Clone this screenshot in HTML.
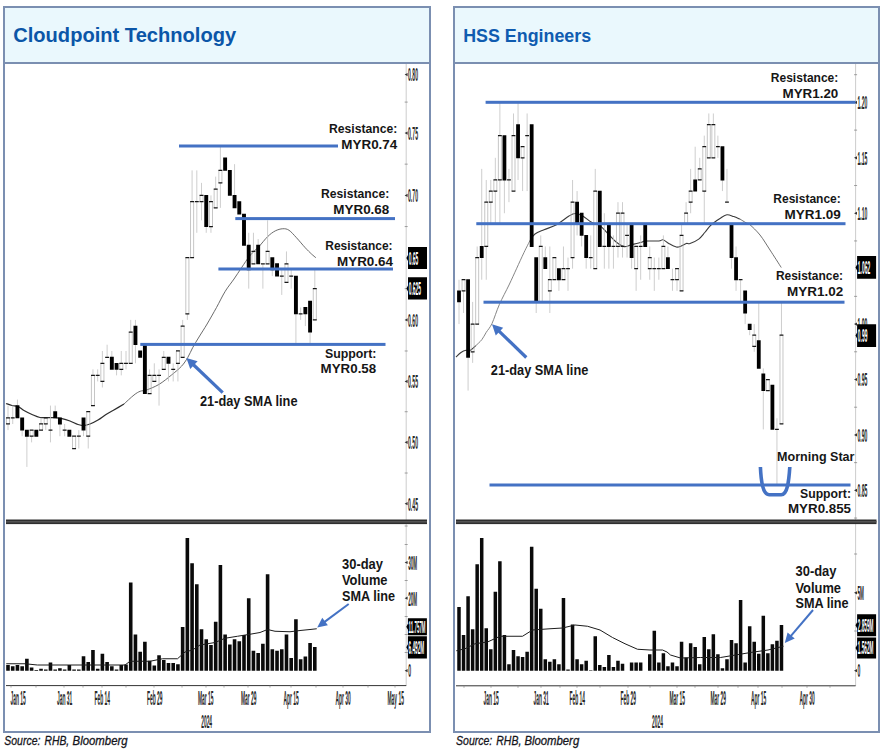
<!DOCTYPE html>
<html lang="en"><head><meta charset="utf-8"><title>Charts</title>
<style>html,body{margin:0;padding:0;background:#fff}body{width:884px;height:752px;overflow:hidden}svg{display:block}text{font-family:"Liberation Sans",sans-serif}</style></head><body>
<svg width="884" height="752" viewBox="0 0 884 752">
<rect width="884" height="752" fill="#fff"/>
<g id="left">
<rect x="4" y="7" width="426" height="56" fill="#eaf8fd"/>
<rect x="4" y="62" width="426" height="2" fill="#7b8fb1"/>
<rect x="4" y="7" width="426" height="725" fill="none" stroke="#7b8fb1" stroke-width="2"/>
<text x="13.2" y="41.8" font-size="20" font-weight="bold" textLength="223" lengthAdjust="spacingAndGlyphs" fill="#0b56a8">Cloudpoint Technology</text>
<path d="M406.2 64V686" stroke="#c6c6c6" stroke-width="0.9" fill="none"/>
<path d="M404.6 74.6L407.6 73L407.6 76.2zM404.6 133.1L407.6 131.5L407.6 134.7zM404.6 195.4L407.6 193.8L407.6 197zM404.6 319.9L407.6 318.3L407.6 321.5zM404.6 381.42L407.6 379.82L407.6 383.02zM404.6 442.37L407.6 440.77L407.6 443.97zM404.6 503.7L407.6 502.1L407.6 505.3z" fill="#333"/>
<path d="M404.7 102.1h3M404.7 164.15h3M404.7 226.56h3M404.7 288.65h3M404.7 350.99h3M404.7 411.73h3M404.7 473.03h3" stroke="#888" stroke-width="0.8" fill="none"/>
<text transform="translate(408 81.4) scale(0.27 1)" font-size="19" font-weight="bold" fill="#2a2a2a">0.80</text>
<text transform="translate(408 139.9) scale(0.27 1)" font-size="19" font-weight="bold" fill="#2a2a2a">0.75</text>
<text transform="translate(408 202.2) scale(0.27 1)" font-size="19" font-weight="bold" fill="#2a2a2a">0.70</text>
<text transform="translate(408 326.7) scale(0.27 1)" font-size="19" font-weight="bold" fill="#2a2a2a">0.60</text>
<text transform="translate(408 388.22) scale(0.27 1)" font-size="19" font-weight="bold" fill="#2a2a2a">0.55</text>
<text transform="translate(408 449.17) scale(0.27 1)" font-size="19" font-weight="bold" fill="#2a2a2a">0.50</text>
<text transform="translate(408 510.5) scale(0.27 1)" font-size="19" font-weight="bold" fill="#2a2a2a">0.45</text>
<path d="M408 247h19v22h-19V261L406.4 258L408 255z" fill="#000"/>
<text transform="translate(408.7 264.84) scale(0.26 1)" font-size="19" font-weight="bold" fill="#fff">0.65</text>
<path d="M408 277.3h19v22.3h-19V291.45L406.4 288.45L408 285.45z" fill="#000"/>
<text transform="translate(408.7 295.29) scale(0.26 1)" font-size="19" font-weight="bold" fill="#fff">0.625</text>
<path d="M6 403.5C7 403.83 10 405 12 405.5C14 406 16 405.67 18 406.5C20 407.33 21.67 409.17 24 410.5C26.33 411.83 29.33 413.33 32 414.5C34.67 415.67 37.33 416.98 40 417.5C42.67 418.02 45.5 417.57 48 417.6C50.5 417.63 52.67 417.53 55 417.7C57.33 417.87 59.5 418.05 62 418.6C64.5 419.15 67.33 420.02 70 421C72.67 421.98 75.67 423.75 78 424.5C80.33 425.25 82 425.58 84 425.5C86 425.42 87.67 424.92 90 424C92.33 423.08 95.33 421.58 98 420C100.67 418.42 103.5 416.08 106 414.5C108.5 412.92 110 412.25 113 410.5C116 408.75 122.17 405.08 124 404" stroke="#2e2e2e" stroke-width="1.25" fill="none"/>
<path d="M124 404C125.67 402.5 131.29 397.12 134 395C136.71 392.88 138.17 392.08 140.25 391.25C142.33 390.42 143.38 391.14 146.5 390C149.62 388.86 154.83 386.9 159 384.4C163.17 381.9 167.75 378.02 171.5 375C175.25 371.98 178.79 369.17 181.5 366.25C184.21 363.33 185.88 360.62 187.75 357.5C189.62 354.38 190.88 350.92 192.75 347.5C194.62 344.08 196.61 340.92 199 337C201.39 333.08 204.18 328.92 207.1 324C210.02 319.08 213.47 312.96 216.5 307.5C219.53 302.04 222.33 296 225.25 291.25C228.17 286.5 231.29 282.92 234 279C236.71 275.08 238.79 271.71 241.5 267.75C244.21 263.79 247.33 258.79 250.25 255.25C253.17 251.71 256.08 249.62 259 246.5C261.92 243.38 265.04 239.1 267.75 236.5C270.46 233.9 272.75 232.19 275.25 230.9C277.75 229.61 280.46 228.86 282.75 228.75C285.04 228.64 286.71 228.75 289 230.25C291.29 231.75 293.79 234.83 296.5 237.75C299.21 240.67 302.75 245.04 305.25 247.75C307.75 250.46 309.73 252.33 311.5 254C313.27 255.67 315.17 257.12 315.9 257.75" stroke="#5a5a5a" stroke-width="0.9" fill="none"/>
<path d="M8 405.6V417.86M8 423.99V430.11M12.72 405.6V417.86M12.72 417.86V423.99M17.44 399.55V405.6M22.16 430.11V436.24M26.88 436.24V466.9M31.6 436.24V442.37M41.04 417.86V423.99M45.76 423.99V430.11M50.48 405.6V430.11M50.48 430.11V442.37M55.2 405.6V411.73M59.92 423.99V436.24M64.64 423.99V430.11M64.64 430.11V436.24M78.8 430.11V436.24M78.8 436.24V448.5M83.52 430.11V436.24M88.24 436.24V448.5M92.96 369.33V375.37M97.68 369.33V375.37M97.68 375.37V381.42M102.4 350.99V363.29M102.4 381.42V387.46M107.12 344.73V357.25M111.84 350.99V357.25M116.56 369.33V375.37M121.28 350.99V363.29M121.28 369.33V375.37M126 350.99V363.29M126 363.29V369.33M130.72 319.9V332.2M135.44 319.9V326.05M135.44 344.73V363.29M149.6 369.33V375.37M154.32 363.29V375.37M159.04 369.33V375.37M159.04 375.37V405.6M163.76 350.99V357.25M168.48 363.29V381.42M173.2 363.29V369.33M173.2 369.33V381.42M177.92 363.29V381.42M182.64 319.9V326.05M187.36 313.75V319.9M192.08 170.4V201.63M196.8 170.4V201.63M196.8 201.63V232.79M201.52 182.9V195.4M201.52 201.63V220.32M206.24 226.56V232.79M210.96 195.4V201.63M210.96 226.56V232.79M215.68 176.65V189.15M220.4 145.5V170.4M220.4 182.9V207.86M234.56 164.15V195.4M248.72 232.79V245.25M248.72 269.93V288.65M253.44 232.79V251.42M258.16 239.02V245.25M262.88 263.76V288.65M267.6 220.32V251.42M272.32 269.93V276.1M281.76 269.93V276.1M281.76 276.1V294.93M286.48 251.42V263.76M291.2 269.93V276.1M291.2 276.1V288.65M295.92 313.75V344.73M300.64 307.48V313.75M300.64 313.75V319.9M305.36 313.75V326.05M310.08 332.2V344.73M314.8 269.93V288.65" stroke="#c2c2c2" stroke-width="0.8" fill="none"/>
<path d="M6.45 417.86V423.99M9.55 417.86V423.99M30.05 430.11V436.24M33.15 430.11V436.24M39.49 423.99V430.11M42.59 423.99V430.11M44.21 417.86V423.99M47.31 417.86V423.99M72.53 436.24V448.5M75.63 436.24V448.5M86.69 411.73V436.24M89.79 411.73V436.24M91.41 375.37V405.6M94.51 375.37V405.6M100.85 363.29V381.42M103.95 363.29V381.42M119.73 363.29V369.33M122.83 363.29V369.33M129.17 332.2V363.29M132.27 332.2V363.29M148.05 375.37V393.5M151.15 375.37V393.5M152.77 375.37V381.42M155.87 375.37V381.42M162.21 357.25V369.33M165.31 357.25V369.33M176.37 350.99V363.29M179.47 350.99V363.29M181.09 326.05V357.25M184.19 326.05V357.25M185.81 257.59V313.75M188.91 257.59V313.75M190.53 201.63V257.59M193.63 201.63V257.59M199.97 195.4V201.63M203.07 195.4V201.63M209.41 201.63V226.56M212.51 201.63V226.56M214.13 189.15V207.86M217.23 189.15V207.86M218.85 170.4V182.9M221.95 170.4V182.9M251.89 251.42V263.76M254.99 251.42V263.76M266.05 251.42V263.76M269.15 251.42V263.76M284.93 263.76V282.38M288.03 263.76V282.38M313.25 288.65V319.9M316.35 288.65V319.9" stroke="#adadad" stroke-width="0.7" fill="none"/>
<path d="M6.05 417.86h3.9M6.05 423.99h3.9M10.77 417.86h3.9M29.65 430.11h3.9M29.65 436.24h3.9M39.09 423.99h3.9M39.09 430.11h3.9M43.81 417.86h3.9M43.81 423.99h3.9M48.53 430.11h3.9M62.69 430.11h3.9M72.13 436.24h3.9M72.13 448.5h3.9M76.85 436.24h3.9M86.29 411.73h3.9M86.29 436.24h3.9M91.01 375.37h3.9M91.01 405.6h3.9M95.73 375.37h3.9M100.45 363.29h3.9M100.45 381.42h3.9M105.17 357.25h3.9M119.33 363.29h3.9M119.33 369.33h3.9M124.05 363.29h3.9M128.77 332.2h3.9M128.77 363.29h3.9M147.65 375.37h3.9M147.65 393.5h3.9M152.37 375.37h3.9M152.37 381.42h3.9M157.09 375.37h3.9M161.81 357.25h3.9M161.81 369.33h3.9M171.25 369.33h3.9M175.97 350.99h3.9M175.97 363.29h3.9M180.69 326.05h3.9M180.69 357.25h3.9M185.41 257.59h3.9M185.41 313.75h3.9M190.13 201.63h3.9M190.13 257.59h3.9M194.85 201.63h3.9M199.57 195.4h3.9M199.57 201.63h3.9M209.01 201.63h3.9M209.01 226.56h3.9M213.73 189.15h3.9M213.73 207.86h3.9M218.45 170.4h3.9M218.45 182.9h3.9M251.49 251.42h3.9M251.49 263.76h3.9M260.93 263.76h3.9M265.65 251.42h3.9M265.65 263.76h3.9M279.81 276.1h3.9M284.53 263.76h3.9M284.53 282.38h3.9M289.25 276.1h3.9M298.69 313.75h3.9M312.85 288.65h3.9M312.85 319.9h3.9" stroke="#161616" stroke-width="1.25" fill="none"/>
<path d="M15.49 405.2h3.9V418.26h-3.9zM20.21 417.46h3.9V430.51h-3.9zM24.93 429.71h3.9V436.64h-3.9zM34.37 429.71h3.9V436.64h-3.9zM53.25 411.33h3.9V418.26h-3.9zM57.97 417.46h3.9V424.39h-3.9zM67.41 429.71h3.9V436.64h-3.9zM81.57 417.46h3.9V430.51h-3.9zM109.89 356.85h3.9V369.73h-3.9zM114.61 362.89h3.9V369.73h-3.9zM133.49 325.65h3.9V345.12h-3.9zM138.21 350.59h3.9V357.65h-3.9zM142.93 344.33h3.9V393.9h-3.9zM166.53 356.85h3.9V363.69h-3.9zM204.29 195h3.9V226.96h-3.9zM223.17 157.5h3.9V170.8h-3.9zM227.89 170h3.9V195.8h-3.9zM232.61 195h3.9V208.26h-3.9zM237.33 201.23h3.9V214.49h-3.9zM242.05 213.69h3.9V245.65h-3.9zM246.77 244.85h3.9V270.33h-3.9zM256.21 244.85h3.9V264.16h-3.9zM270.37 257.19h3.9V270.33h-3.9zM275.09 263.36h3.9V276.5h-3.9zM293.97 275.7h3.9V314.15h-3.9zM303.41 307.08h3.9V314.15h-3.9zM308.13 300.8h3.9V332.6h-3.9z" fill="#000"/>
<rect x="179" y="144.5" width="159" height="3" fill="#4472c4"/>
<rect x="235.3" y="217.1" width="159.7" height="3" fill="#4472c4"/>
<rect x="218.4" y="267.5" width="174.6" height="3" fill="#4472c4"/>
<rect x="140.3" y="342.9" width="245.2" height="3" fill="#4472c4"/>
<text x="397.3" y="133.2" font-size="13" font-weight="bold" text-anchor="end" textLength="68.3" lengthAdjust="spacingAndGlyphs" fill="#161616">Resistance:</text>
<text x="397.3" y="149" font-size="13" font-weight="bold" text-anchor="end" textLength="56" lengthAdjust="spacingAndGlyphs" fill="#161616">MYR0.74</text>
<text x="389.3" y="198.3" font-size="13" font-weight="bold" text-anchor="end" textLength="68.3" lengthAdjust="spacingAndGlyphs" fill="#161616">Resistance:</text>
<text x="389.3" y="214" font-size="13" font-weight="bold" text-anchor="end" textLength="56" lengthAdjust="spacingAndGlyphs" fill="#161616">MYR0.68</text>
<text x="392.6" y="249.6" font-size="13" font-weight="bold" text-anchor="end" textLength="67.3" lengthAdjust="spacingAndGlyphs" fill="#161616">Resistance:</text>
<text x="393" y="266.3" font-size="13" font-weight="bold" text-anchor="end" textLength="56" lengthAdjust="spacingAndGlyphs" fill="#161616">MYR0.64</text>
<text x="376.4" y="357.7" font-size="13" font-weight="bold" text-anchor="end" textLength="51.5" lengthAdjust="spacingAndGlyphs" fill="#161616">Support:</text>
<text x="376.2" y="373.4" font-size="13" font-weight="bold" text-anchor="end" textLength="55.6" lengthAdjust="spacingAndGlyphs" fill="#161616">MYR0.58</text>
<text x="200" y="405.8" font-size="14.4" font-weight="bold" textLength="97.5" lengthAdjust="spacingAndGlyphs" fill="#161616">21-day SMA line</text>
<path d="M222.7 392.7L193.19 364.5" stroke="#4472c4" stroke-width="3.2" fill="none"/>
<path d="M186.4 358L197.61 361.32L190.22 369.05z" fill="#4472c4"/>
<rect x="6" y="519.5" width="421" height="4.6" fill="#2e2e2e"/>
<rect x="6" y="521.1" width="421" height="1.4" fill="#585858"/>
<path d="M6.2 665h3.6V670.75h-3.6zM10.92 666.25h3.6V670.75h-3.6zM15.64 665h3.6V670.75h-3.6zM20.36 666.25h3.6V670.75h-3.6zM25.08 658.75h3.6V670.75h-3.6zM29.8 667.5h3.6V670.75h-3.6zM34.52 670h3.6V670.75h-3.6zM39.24 668.75h3.6V670.75h-3.6zM43.96 669.5h3.6V670.75h-3.6zM48.68 662.5h3.6V670.75h-3.6zM53.4 669.5h3.6V670.75h-3.6zM58.12 668.25h3.6V670.75h-3.6zM62.84 669.5h3.6V670.75h-3.6zM67.56 665h3.6V670.75h-3.6zM72.28 669.5h3.6V670.75h-3.6zM77 669.5h3.6V670.75h-3.6zM81.72 656.25h3.6V670.75h-3.6zM86.44 662h3.6V670.75h-3.6zM91.16 650h3.6V670.75h-3.6zM95.88 668.75h3.6V670.75h-3.6zM100.6 653.75h3.6V670.75h-3.6zM105.32 662h3.6V670.75h-3.6zM110.04 666.25h3.6V670.75h-3.6zM114.76 669.5h3.6V670.75h-3.6zM119.48 665h3.6V670.75h-3.6zM124.2 664.5h3.6V670.75h-3.6zM128.92 582.5h3.6V670.75h-3.6zM133.64 634.5h3.6V670.75h-3.6zM138.36 651.75h3.6V670.75h-3.6zM143.08 641.75h3.6V670.75h-3.6zM147.8 660.75h3.6V670.75h-3.6zM152.52 665.5h3.6V670.75h-3.6zM157.24 655.25h3.6V670.75h-3.6zM161.96 660h3.6V670.75h-3.6zM166.68 663h3.6V670.75h-3.6zM171.4 663h3.6V670.75h-3.6zM176.12 664.25h3.6V670.75h-3.6zM180.84 627h3.6V670.75h-3.6zM185.56 538h3.6V670.75h-3.6zM190.28 563.25h3.6V670.75h-3.6zM195 584.25h3.6V670.75h-3.6zM199.72 629.25h3.6V670.75h-3.6zM204.44 639.25h3.6V670.75h-3.6zM209.16 645h3.6V670.75h-3.6zM213.88 621.75h3.6V670.75h-3.6zM218.6 565h3.6V670.75h-3.6zM223.32 634.5h3.6V670.75h-3.6zM228.04 644.5h3.6V670.75h-3.6zM232.76 639.25h3.6V670.75h-3.6zM237.48 641.25h3.6V670.75h-3.6zM242.2 635h3.6V670.75h-3.6zM246.92 598.25h3.6V670.75h-3.6zM251.64 650.75h3.6V670.75h-3.6zM256.36 653h3.6V670.75h-3.6zM261.08 643.75h3.6V670.75h-3.6zM265.8 574.25h3.6V670.75h-3.6zM270.52 649.25h3.6V670.75h-3.6zM275.24 650.75h3.6V670.75h-3.6zM279.96 649.25h3.6V670.75h-3.6zM284.68 634.5h3.6V670.75h-3.6zM289.4 658h3.6V670.75h-3.6zM294.12 619.25h3.6V670.75h-3.6zM298.84 659.25h3.6V670.75h-3.6zM303.56 656.5h3.6V670.75h-3.6zM308.28 643h3.6V670.75h-3.6zM313 647h3.6V670.75h-3.6z" fill="#0a0a0a"/>
<path d="M6.25 663.75L25 663.75L37.5 665L125 665L130 661.25L150 661.25L162.5 658.75L177.5 658.75L185 652L192.5 650L200 645L215 642.5L225 638.25L237.5 636.25L250 634.25L260 632.5L267.5 629.5L275 631.25L290 631.75L300 630.5L310 629.5L316.75 628.75" stroke="#1c1c1c" stroke-width="1" fill="none" stroke-linejoin="round"/>
<text x="342" y="568.8" font-size="14.4" font-weight="bold" textLength="41" lengthAdjust="spacingAndGlyphs" fill="#161616">30-day</text>
<text x="342" y="585" font-size="14.4" font-weight="bold" textLength="45.5" lengthAdjust="spacingAndGlyphs" fill="#161616">Volume</text>
<text x="342" y="600.8" font-size="14.4" font-weight="bold" textLength="53" lengthAdjust="spacingAndGlyphs" fill="#161616">SMA line</text>
<path d="M348.7 604L324.26 622.15" stroke="#4472c4" stroke-width="2" fill="none"/>
<path d="M317.2 627.4L322.26 617.78L327.87 625.33z" fill="#4472c4"/>
<text transform="translate(408.2 569.8) scale(0.23 1)" font-size="20" font-weight="bold" fill="#1e1e1e">30M</text>
<text transform="translate(408.2 605.6) scale(0.23 1)" font-size="20" font-weight="bold" fill="#1e1e1e">20M</text>
<text transform="translate(408.2 677.3) scale(0.27 1)" font-size="19" font-weight="bold" fill="#1e1e1e">0</text>
<path d="M404.6 562.5L407.6 560.9L407.6 564.1zM404.6 598.2L407.6 596.6L407.6 599.8zM404.6 670.7L407.6 669.1L407.6 672.3z" fill="#333"/>
<path d="M404.7 526h3M404.7 544.5h3M404.7 580.5h3M404.7 616.5h3M404.7 634.5h3M404.7 652.5h3" stroke="#888" stroke-width="0.8" fill="none"/>
<path d="M407.9 618.2h19v17h-19V629.7L406.3 626.7L407.9 623.7z" fill="#000"/>
<text transform="translate(408.6 632.82) scale(0.26 1)" font-size="17" font-weight="bold" fill="#fff">11.757M</text>
<path d="M407.9 636.2h19v22.2h-19V650.3L406.3 647.3L407.9 644.3z" fill="#000"/>
<text transform="translate(408.6 653.78) scale(0.26 1)" font-size="18" font-weight="bold" fill="#fff">6.492M</text>
<path d="M6 685.6H406.2" stroke="#333" stroke-width="1" fill="none"/>
<path d="M11 685.6v2M36 685.6v2M64 685.6v2M83 685.6v2M102 685.6v2M126 685.6v2M154 685.6v2M182 685.6v2M206 685.6v2M224 685.6v2M248 685.6v2M270 685.6v2M291 685.6v2M316 685.6v2M343 685.6v2M368 685.6v2M395 685.6v2" stroke="#888" stroke-width="0.7" fill="none"/>
<text transform="translate(10.5 705.4) scale(0.24 1)" font-size="20.5" font-weight="bold" fill="#2a2a2a">Jan 15</text>
<text transform="translate(57 705.4) scale(0.24 1)" font-size="20.5" font-weight="bold" fill="#2a2a2a">Jan 31</text>
<text transform="translate(94.5 705.4) scale(0.24 1)" font-size="20.5" font-weight="bold" fill="#2a2a2a">Feb 14</text>
<text transform="translate(147 705.4) scale(0.24 1)" font-size="20.5" font-weight="bold" fill="#2a2a2a">Feb 29</text>
<text transform="translate(198 705.4) scale(0.24 1)" font-size="20.5" font-weight="bold" fill="#2a2a2a">Mar 15</text>
<text transform="translate(241 705.4) scale(0.24 1)" font-size="20.5" font-weight="bold" fill="#2a2a2a">Mar 29</text>
<text transform="translate(283.5 705.4) scale(0.24 1)" font-size="20.5" font-weight="bold" fill="#2a2a2a">Apr 15</text>
<text transform="translate(335.5 705.4) scale(0.24 1)" font-size="20.5" font-weight="bold" fill="#2a2a2a">Apr 30</text>
<text transform="translate(387.5 705.4) scale(0.24 1)" font-size="20.5" font-weight="bold" fill="#2a2a2a">May 15</text>
<text transform="translate(201.2 728) scale(0.28 1)" font-size="17.5" font-weight="bold" fill="#2a2a2a">2024</text>
<text x="4.3" y="744.6" font-size="12.5" font-weight="normal" textLength="36.1" lengthAdjust="spacingAndGlyphs" font-style="italic" fill="#15151c" stroke="#15151c" stroke-width="0.3">Source:</text>
<text x="44.4" y="744.6" font-size="12.5" font-weight="normal" textLength="24.8" lengthAdjust="spacingAndGlyphs" font-style="italic" fill="#15151c" stroke="#15151c" stroke-width="0.3">RHB,</text>
<text x="72.6" y="744.6" font-size="12.5" font-weight="normal" textLength="55" lengthAdjust="spacingAndGlyphs" font-style="italic" fill="#15151c" stroke="#15151c" stroke-width="0.3">Bloomberg</text>
</g>
<g id="right">
<rect x="454" y="7" width="425" height="56" fill="#eaf8fd"/>
<rect x="454" y="62" width="425" height="2" fill="#7b8fb1"/>
<rect x="454" y="7" width="425" height="725" fill="none" stroke="#7b8fb1" stroke-width="2"/>
<text x="463.2" y="41.8" font-size="19" font-weight="bold" textLength="128" lengthAdjust="spacingAndGlyphs" fill="#0f5cb0">HSS Engineers</text>
<path d="M855.6 64V686" stroke="#c6c6c6" stroke-width="0.9" fill="none"/>
<path d="M854 102.4L857 100.8L857 104zM854 157.82L857 156.22L857 159.42zM854 213.24L857 211.64L857 214.84zM854 324.08L857 322.48L857 325.68zM854 379.5L857 377.9L857 381.1zM854 434.92L857 433.32L857 436.52zM854 490.34L857 488.74L857 491.94z" fill="#333"/>
<path d="M854.1 74.69h3M854.1 130.11h3M854.1 185.53h3M854.1 240.95h3M854.1 296.37h3M854.1 351.79h3M854.1 407.21h3M854.1 462.63h3M854.1 518.05h3" stroke="#888" stroke-width="0.8" fill="none"/>
<text transform="translate(857.4 109.2) scale(0.27 1)" font-size="19" font-weight="bold" fill="#2a2a2a">1.20</text>
<text transform="translate(857.4 164.62) scale(0.27 1)" font-size="19" font-weight="bold" fill="#2a2a2a">1.15</text>
<text transform="translate(857.4 220.04) scale(0.27 1)" font-size="19" font-weight="bold" fill="#2a2a2a">1.10</text>
<text transform="translate(857.4 330.88) scale(0.27 1)" font-size="19" font-weight="bold" fill="#2a2a2a">1.00</text>
<text transform="translate(857.4 386.3) scale(0.27 1)" font-size="19" font-weight="bold" fill="#2a2a2a">0.95</text>
<text transform="translate(857.4 441.72) scale(0.27 1)" font-size="19" font-weight="bold" fill="#2a2a2a">0.90</text>
<text transform="translate(857.4 497.14) scale(0.27 1)" font-size="19" font-weight="bold" fill="#2a2a2a">0.85</text>
<path d="M857.1 256h19v22.8h-19V270.4L855.5 267.4L857.1 264.4z" fill="#000"/>
<text transform="translate(857.8 274.24) scale(0.26 1)" font-size="19" font-weight="bold" fill="#fff">1.062</text>
<path d="M857.1 324.2h19v22.8h-19V338.6L855.5 335.6L857.1 332.6z" fill="#000"/>
<text transform="translate(857.8 342.44) scale(0.26 1)" font-size="19" font-weight="bold" fill="#fff">0.99</text>
<path d="M456 357C456.83 356.25 459.33 353.62 461 352.5C462.67 351.38 464.5 350.62 466 350.3C467.5 349.98 468.35 351.38 470 350.6C471.65 349.82 474.92 346.43 475.9 345.6" stroke="#3a3a3a" stroke-width="1.1" fill="none"/>
<path d="M475.9 345.6C476.88 344.62 480.08 341.9 481.8 339.7C483.52 337.5 484.5 335.1 486.2 332.4C487.9 329.7 489.8 328.17 492 323.5C494.2 318.83 496.57 310.82 499.4 304.4C502.23 297.98 506.15 290.94 509 285C511.85 279.06 514 274.17 516.5 268.75C519 263.33 521.71 257.29 524 252.5C526.29 247.71 529.21 242.08 530.25 240" stroke="#777" stroke-width="0.9" fill="none"/>
<path d="M530.25 240C531.04 239 532.71 235.71 535 234C537.29 232.29 540.42 231.29 544 229.75C547.58 228.21 552.33 227.04 556.5 224.75C560.67 222.46 565.88 217.88 569 216C572.12 214.12 572.96 213.5 575.25 213.5C577.54 213.5 580.04 214.54 582.75 216C585.46 217.46 588.58 220.58 591.5 222.25C594.42 223.92 597.33 223.92 600.25 226C603.17 228.08 606.29 232.04 609 234.75C611.71 237.46 614 240.28 616.5 242.25C619 244.22 621.5 246.18 624 246.6C626.5 247.02 628.58 245.47 631.5 244.75C634.42 244.03 639.25 242.88 641.5 242.25C643.75 241.62 642.12 241.21 645 241C647.88 240.79 655.73 241.21 658.75 241C661.77 240.79 661.43 239.33 663.1 239.75C664.77 240.17 666.56 242.29 668.75 243.5C670.94 244.71 674.17 246.58 676.25 247C678.33 247.42 679.58 246.58 681.25 246C682.92 245.42 684.79 243.92 686.25 243.5C687.71 243.08 687.92 244.23 690 243.5C692.08 242.77 696.25 240.97 698.75 239.1C701.25 237.22 702.92 234.64 705 232.25C707.08 229.86 708.75 227.04 711.25 224.75C713.75 222.46 717.39 220.17 720 218.5C722.61 216.83 724.61 215.07 726.9 214.75C729.19 214.43 731.57 215.88 733.75 216.6C735.93 217.32 738.96 218.68 740 219.1" stroke="#3a3a3a" stroke-width="1.1" fill="none"/>
<path d="M740 219.1C741.04 219.73 744.58 221.96 746.25 222.9C747.92 223.84 747.71 222.73 750 224.75C752.29 226.77 756.67 230.79 760 235C763.33 239.21 766.46 244.58 770 250C773.54 255.42 779.38 264.58 781.25 267.5" stroke="#606060" stroke-width="0.9" fill="none"/>
<path d="M459 279.74V290.83M459 301.91V324.08M463.54 290.83V313M468.08 357.33V390.58M472.63 301.91V324.08M472.63 351.79V362.87M477.17 246.49V257.58M481.71 168.9V246.49M481.71 257.58V279.74M486.25 179.99V202.16M486.25 246.49V279.74M490.79 179.99V191.07M490.79 202.16V224.32M495.34 157.82V179.99M495.34 191.07V224.32M499.88 102.4V135.65M499.88 179.99V224.32M504.42 179.99V213.24M508.96 168.9V179.99M508.96 179.99V202.16M513.5 113.48V135.65M518.05 102.4V124.57M518.05 157.82V179.99M522.59 157.82V191.07M527.13 113.48V135.65M527.13 135.65V191.07M536.21 301.91V313M540.76 235.41V246.49M545.3 246.49V257.58M549.84 246.49V279.74M549.84 290.83V313M558.92 279.74V290.83M563.47 246.49V268.66M568.01 257.58V268.66M568.01 268.66V290.83M572.55 179.99V202.16M572.55 257.58V268.66M577.09 191.07V202.16M577.09 224.32V235.41M581.63 235.41V246.49M586.18 257.58V268.66M590.72 235.41V257.58M590.72 257.58V268.66M595.26 168.9V191.07M604.34 213.24V246.49M604.34 246.49V268.66M608.89 246.49V268.66M613.43 235.41V246.49M613.43 246.49V268.66M617.97 202.16V213.24M617.97 246.49V257.58M622.51 202.16V213.24M622.51 246.49V257.58M627.05 224.32V235.41M627.05 235.41V257.58M631.6 257.58V268.66M636.14 268.66V290.83M640.68 235.41V246.49M640.68 246.49V279.74M649.76 246.49V257.58M649.76 268.66V279.74M654.31 257.58V268.66M654.31 268.66V290.83M658.85 257.58V268.66M658.85 268.66V279.74M663.39 235.41V246.49M667.93 246.49V257.58M672.47 268.66V279.74M672.47 279.74V290.83M677.02 279.74V290.83M681.56 224.32V235.41M686.1 202.16V213.24M690.64 168.9V191.07M690.64 202.16V213.24M695.18 146.74V179.99M699.73 157.82V168.9M704.27 135.65V146.74M704.27 191.07V224.32M708.81 113.48V124.57M713.35 113.48V124.57M717.89 135.65V146.74M717.89 146.74V157.82M722.44 179.99V191.07M726.98 168.9V202.16M731.52 257.58V268.66M736.06 246.49V257.58M736.06 279.74V290.83M740.6 279.74V301.91M745.15 313V324.08M749.69 329.62V335.16M754.23 324.08V335.16M754.23 346.25V351.79M758.77 301.91V340.71M763.31 368.42V373.96M763.31 390.58V429.38M776.94 418.29V429.38M776.94 429.38V484.8M781.48 301.91V335.16" stroke="#c2c2c2" stroke-width="0.8" fill="none"/>
<path d="M462.04 279.74V290.83M465.04 279.74V290.83M471.13 324.08V351.79M474.13 324.08V351.79M475.67 257.58V324.08M478.67 257.58V324.08M484.75 202.16V246.49M487.75 202.16V246.49M489.29 191.07V202.16M492.29 191.07V202.16M493.84 179.99V191.07M496.84 179.99V191.07M498.38 135.65V179.99M501.38 135.65V179.99M512 135.65V191.07M515 135.65V191.07M521.09 146.74V157.82M524.09 146.74V157.82M539.26 246.49V301.91M542.26 246.49V301.91M548.34 279.74V290.83M551.34 279.74V290.83M552.88 257.58V279.74M555.88 257.58V279.74M561.97 268.66V279.74M564.97 268.66V279.74M571.05 202.16V257.58M574.05 202.16V257.58M593.76 191.07V268.66M596.76 191.07V268.66M616.47 213.24V246.49M619.47 213.24V246.49M621.01 213.24V246.49M624.01 213.24V246.49M634.64 246.49V268.66M637.64 246.49V268.66M648.26 257.58V268.66M651.26 257.58V268.66M661.89 246.49V268.66M664.89 246.49V268.66M675.52 268.66V279.74M678.52 268.66V279.74M680.06 235.41V290.83M683.06 235.41V290.83M684.6 213.24V224.32M687.6 213.24V224.32M689.14 191.07V202.16M692.14 191.07V202.16M698.23 168.9V179.99M701.23 168.9V179.99M702.77 146.74V191.07M705.77 146.74V191.07M707.31 124.57V157.82M710.31 124.57V157.82M711.85 124.57V157.82M714.85 124.57V157.82M752.73 335.16V346.25M755.73 335.16V346.25M766.36 379.5V390.58M769.36 379.5V390.58M779.98 335.16V423.84M782.98 335.16V423.84" stroke="#adadad" stroke-width="0.7" fill="none"/>
<path d="M461.64 279.74h3.8M461.64 290.83h3.8M470.73 324.08h3.8M470.73 351.79h3.8M475.27 257.58h3.8M475.27 324.08h3.8M484.35 202.16h3.8M484.35 246.49h3.8M488.89 191.07h3.8M488.89 202.16h3.8M493.44 179.99h3.8M493.44 191.07h3.8M497.98 135.65h3.8M497.98 179.99h3.8M507.06 179.99h3.8M511.6 135.65h3.8M511.6 191.07h3.8M520.69 146.74h3.8M520.69 157.82h3.8M525.23 135.65h3.8M538.86 246.49h3.8M538.86 301.91h3.8M547.94 279.74h3.8M547.94 290.83h3.8M552.48 257.58h3.8M552.48 279.74h3.8M561.57 268.66h3.8M561.57 279.74h3.8M566.11 268.66h3.8M570.65 202.16h3.8M570.65 257.58h3.8M588.82 257.58h3.8M593.36 191.07h3.8M593.36 268.66h3.8M602.44 246.49h3.8M611.53 246.49h3.8M616.07 213.24h3.8M616.07 246.49h3.8M620.61 213.24h3.8M620.61 246.49h3.8M625.15 235.41h3.8M634.24 246.49h3.8M634.24 268.66h3.8M638.78 246.49h3.8M647.86 257.58h3.8M647.86 268.66h3.8M652.41 268.66h3.8M656.95 268.66h3.8M661.49 246.49h3.8M661.49 268.66h3.8M670.57 279.74h3.8M675.12 268.66h3.8M675.12 279.74h3.8M679.66 235.41h3.8M679.66 290.83h3.8M684.2 213.24h3.8M684.2 224.32h3.8M688.74 191.07h3.8M688.74 202.16h3.8M697.83 168.9h3.8M697.83 179.99h3.8M702.37 146.74h3.8M702.37 191.07h3.8M706.91 124.57h3.8M706.91 157.82h3.8M711.45 124.57h3.8M711.45 157.82h3.8M715.99 146.74h3.8M725.08 202.16h3.8M738.7 279.74h3.8M752.33 335.16h3.8M752.33 346.25h3.8M765.96 379.5h3.8M765.96 390.58h3.8M775.04 429.38h3.8M779.58 335.16h3.8M779.58 423.84h3.8" stroke="#161616" stroke-width="1.25" fill="none"/>
<path d="M457.1 290.43h3.8V302.31h-3.8zM466.18 279.34h3.8V357.73h-3.8zM479.81 246.09h3.8V257.98h-3.8zM502.52 135.25h3.8V180.39h-3.8zM516.15 124.17h3.8V158.22h-3.8zM529.77 124.17h3.8V246.89h-3.8zM534.31 257.18h3.8V302.31h-3.8zM543.4 257.18h3.8V269.06h-3.8zM557.02 268.26h3.8V280.14h-3.8zM575.19 201.76h3.8V224.72h-3.8zM579.73 212.84h3.8V235.81h-3.8zM584.28 235.01h3.8V257.98h-3.8zM597.9 190.67h3.8V246.89h-3.8zM606.99 223.92h3.8V246.89h-3.8zM629.7 223.92h3.8V257.98h-3.8zM643.32 223.92h3.8V246.89h-3.8zM666.03 257.18h3.8V269.06h-3.8zM693.28 179.59h3.8V191.47h-3.8zM720.54 146.34h3.8V180.39h-3.8zM729.62 223.92h3.8V257.98h-3.8zM734.16 257.18h3.8V280.14h-3.8zM743.25 290.43h3.8V313.4h-3.8zM747.79 323.68h3.8V330.02h-3.8zM756.87 340.31h3.8V368.82h-3.8zM761.41 373.56h3.8V390.98h-3.8zM770.5 384.64h3.8V429.78h-3.8z" fill="#000"/>
<rect x="485.6" y="100.8" width="369.9" height="3" fill="#4472c4"/>
<rect x="476.3" y="222.2" width="369.2" height="3" fill="#4472c4"/>
<rect x="483.5" y="300.7" width="361" height="3" fill="#4472c4"/>
<rect x="489.5" y="483.5" width="361" height="3" fill="#4472c4"/>
<text x="838.3" y="82.2" font-size="13" font-weight="bold" text-anchor="end" textLength="67.5" lengthAdjust="spacingAndGlyphs" fill="#161616">Resistance:</text>
<text x="838.3" y="97.7" font-size="13" font-weight="bold" text-anchor="end" textLength="55.8" lengthAdjust="spacingAndGlyphs" fill="#161616">MYR1.20</text>
<text x="840.8" y="203.2" font-size="13" font-weight="bold" text-anchor="end" textLength="67.5" lengthAdjust="spacingAndGlyphs" fill="#161616">Resistance:</text>
<text x="840.8" y="218.8" font-size="13" font-weight="bold" text-anchor="end" textLength="56.2" lengthAdjust="spacingAndGlyphs" fill="#161616">MYR1.09</text>
<text x="843.1" y="279.6" font-size="13" font-weight="bold" text-anchor="end" textLength="67.2" lengthAdjust="spacingAndGlyphs" fill="#161616">Resistance:</text>
<text x="843.3" y="296.3" font-size="13" font-weight="bold" text-anchor="end" textLength="56.2" lengthAdjust="spacingAndGlyphs" fill="#161616">MYR1.02</text>
<text x="777.1" y="461.3" font-size="13" font-weight="bold" textLength="77.4" lengthAdjust="spacingAndGlyphs" fill="#161616">Morning Star</text>
<text x="851" y="497.6" font-size="13" font-weight="bold" text-anchor="end" textLength="51" lengthAdjust="spacingAndGlyphs" fill="#161616">Support:</text>
<text x="851" y="513.3" font-size="13" font-weight="bold" text-anchor="end" textLength="63" lengthAdjust="spacingAndGlyphs" fill="#161616">MYR0.855</text>
<text x="490.8" y="375" font-size="14.4" font-weight="bold" textLength="97.5" lengthAdjust="spacingAndGlyphs" fill="#161616">21-day SMA line</text>
<path d="M526.3 357.5L498.75 330.84" stroke="#4472c4" stroke-width="3.2" fill="none"/>
<path d="M492 324.3L503.19 327.69L495.75 335.38z" fill="#4472c4"/>
<path d="M760.4 467C761 480 762.6 494.7 769.2 494.7L781.2 494.7C787.6 494.7 789 480 789.8 467" stroke="#4472c4" stroke-width="3.6" fill="none" stroke-linejoin="round"/>
<rect x="456" y="519.5" width="420.5" height="4.6" fill="#2e2e2e"/>
<rect x="456" y="521.1" width="420.5" height="1.4" fill="#585858"/>
<path d="M457.25 607h3.5V670.75h-3.5zM461.79 635h3.5V670.75h-3.5zM466.33 596.25h3.5V670.75h-3.5zM470.88 629.25h3.5V670.75h-3.5zM475.42 564.25h3.5V670.75h-3.5zM479.96 538h3.5V670.75h-3.5zM484.5 628.25h3.5V670.75h-3.5zM489.04 649.25h3.5V670.75h-3.5zM493.59 591.75h3.5V670.75h-3.5zM498.13 561.25h3.5V670.75h-3.5zM502.67 635h3.5V670.75h-3.5zM507.21 664.25h3.5V670.75h-3.5zM511.75 650h3.5V670.75h-3.5zM516.3 656.25h3.5V670.75h-3.5zM520.84 657h3.5V670.75h-3.5zM525.38 651.75h3.5V670.75h-3.5zM529.92 546.75h3.5V670.75h-3.5zM534.46 588.75h3.5V670.75h-3.5zM539.01 608.75h3.5V670.75h-3.5zM543.55 659.25h3.5V670.75h-3.5zM548.09 661.75h3.5V670.75h-3.5zM552.63 659.25h3.5V670.75h-3.5zM557.17 664.25h3.5V670.75h-3.5zM561.72 598h3.5V670.75h-3.5zM566.26 669.5h3.5V670.75h-3.5zM570.8 624.5h3.5V670.75h-3.5zM575.34 659.25h3.5V670.75h-3.5zM579.88 664.25h3.5V670.75h-3.5zM584.43 660.75h3.5V670.75h-3.5zM588.97 670.25h3.5V670.75h-3.5zM593.51 636.25h3.5V670.75h-3.5zM598.05 665h3.5V670.75h-3.5zM602.59 667h3.5V670.75h-3.5zM607.14 655h3.5V670.75h-3.5zM611.68 667h3.5V670.75h-3.5zM616.22 660.75h3.5V670.75h-3.5zM620.76 663.75h3.5V670.75h-3.5zM629.85 662.5h3.5V670.75h-3.5zM634.39 662.5h3.5V670.75h-3.5zM638.93 662.5h3.5V670.75h-3.5zM648.01 654.25h3.5V670.75h-3.5zM652.56 630.75h3.5V670.75h-3.5zM657.1 662.5h3.5V670.75h-3.5zM661.64 653.25h3.5V670.75h-3.5zM666.18 666.25h3.5V670.75h-3.5zM670.72 662.5h3.5V670.75h-3.5zM675.27 666.25h3.5V670.75h-3.5zM679.81 641.75h3.5V670.75h-3.5zM684.35 657.5h3.5V670.75h-3.5zM688.89 643.25h3.5V670.75h-3.5zM693.43 647h3.5V670.75h-3.5zM697.98 664.25h3.5V670.75h-3.5zM702.52 637h3.5V670.75h-3.5zM707.06 649.25h3.5V670.75h-3.5zM711.6 634.25h3.5V670.75h-3.5zM716.14 654.25h3.5V670.75h-3.5zM720.69 668.25h3.5V670.75h-3.5zM725.23 659.25h3.5V670.75h-3.5zM729.77 640h3.5V670.75h-3.5zM734.31 643.25h3.5V670.75h-3.5zM738.85 600h3.5V670.75h-3.5zM743.4 662.5h3.5V670.75h-3.5zM747.94 626.25h3.5V670.75h-3.5zM752.48 641.75h3.5V670.75h-3.5zM757.02 653.75h3.5V670.75h-3.5zM761.56 615.75h3.5V670.75h-3.5zM766.11 653.25h3.5V670.75h-3.5zM770.65 644.25h3.5V670.75h-3.5zM775.19 640.75h3.5V670.75h-3.5zM779.73 625h3.5V670.75h-3.5z" fill="#0a0a0a"/>
<path d="M456.25 650.75L465 648.75L475 643.75L487.5 642L500 636.25L522.5 636.25L532.5 630L550 628.75L562.5 628L575 625L587.5 626.25L600 630L612.5 637.5L625 643.75L637.5 649.25L650 650L662.5 650L667 652L670.5 655L680.5 658L700.5 657.5L720.5 657.5L735.5 655L750.5 652.5L768 650L783.5 646.25" stroke="#1c1c1c" stroke-width="1" fill="none" stroke-linejoin="round"/>
<text x="795.5" y="576.3" font-size="14.4" font-weight="bold" textLength="41" lengthAdjust="spacingAndGlyphs" fill="#161616">30-day</text>
<text x="795.5" y="592.5" font-size="14.4" font-weight="bold" textLength="45.5" lengthAdjust="spacingAndGlyphs" fill="#161616">Volume</text>
<text x="795.5" y="608.3" font-size="14.4" font-weight="bold" textLength="53" lengthAdjust="spacingAndGlyphs" fill="#161616">SMA line</text>
<path d="M813 610L790.52 636.31" stroke="#4472c4" stroke-width="2" fill="none"/>
<path d="M784.8 643L787.59 632.5L794.74 638.6z" fill="#4472c4"/>
<text transform="translate(857.4 600.4) scale(0.23 1)" font-size="20" font-weight="bold" fill="#1e1e1e">5M</text>
<text transform="translate(857.4 677.3) scale(0.27 1)" font-size="19" font-weight="bold" fill="#1e1e1e">0</text>
<path d="M854 592.8L857 591.2L857 594.4zM854 670.7L857 669.1L857 672.3z" fill="#333"/>
<path d="M854.1 554h3M854.1 631h3" stroke="#888" stroke-width="0.8" fill="none"/>
<path d="M857.1 614.2h19v22h-19V628.2L855.5 625.2L857.1 622.2z" fill="#000"/>
<text transform="translate(857.8 631.68) scale(0.26 1)" font-size="18" font-weight="bold" fill="#fff">2.859M</text>
<path d="M857.1 637.5h19v21h-19V651L855.5 648L857.1 645z" fill="#000"/>
<text transform="translate(857.8 654.48) scale(0.26 1)" font-size="18" font-weight="bold" fill="#fff">1.562M</text>
<path d="M456 685.8H855.6" stroke="#333" stroke-width="1" fill="none"/>
<path d="M464 685.8v2M491 685.8v2M518 685.8v2M541 685.8v2M560 685.8v2M577 685.8v2M600 685.8v2M628 685.8v2M650 685.8v2M677 685.8v2M695 685.8v2M718 685.8v2M738 685.8v2M758 685.8v2M782 685.8v2M807 685.8v2M830 685.8v2" stroke="#888" stroke-width="0.7" fill="none"/>
<text transform="translate(483.5 705.4) scale(0.24 1)" font-size="20.5" font-weight="bold" fill="#2a2a2a">Jan 15</text>
<text transform="translate(533.5 705.4) scale(0.24 1)" font-size="20.5" font-weight="bold" fill="#2a2a2a">Jan 31</text>
<text transform="translate(569.5 705.4) scale(0.24 1)" font-size="20.5" font-weight="bold" fill="#2a2a2a">Feb 14</text>
<text transform="translate(620.5 705.4) scale(0.24 1)" font-size="20.5" font-weight="bold" fill="#2a2a2a">Feb 29</text>
<text transform="translate(669.5 705.4) scale(0.24 1)" font-size="20.5" font-weight="bold" fill="#2a2a2a">Mar 15</text>
<text transform="translate(710.5 705.4) scale(0.24 1)" font-size="20.5" font-weight="bold" fill="#2a2a2a">Mar 29</text>
<text transform="translate(751 705.4) scale(0.24 1)" font-size="20.5" font-weight="bold" fill="#2a2a2a">Apr 15</text>
<text transform="translate(799.5 705.4) scale(0.24 1)" font-size="20.5" font-weight="bold" fill="#2a2a2a">Apr 30</text>
<text transform="translate(652 728) scale(0.28 1)" font-size="17.5" font-weight="bold" fill="#2a2a2a">2024</text>
<text x="456.1" y="744.7" font-size="12.5" font-weight="normal" textLength="36.2" lengthAdjust="spacingAndGlyphs" font-style="italic" fill="#15151c" stroke="#15151c" stroke-width="0.3">Source:</text>
<text x="496.3" y="744.7" font-size="12.5" font-weight="normal" textLength="25" lengthAdjust="spacingAndGlyphs" font-style="italic" fill="#15151c" stroke="#15151c" stroke-width="0.3">RHB,</text>
<text x="524.4" y="744.7" font-size="12.5" font-weight="normal" textLength="54.8" lengthAdjust="spacingAndGlyphs" font-style="italic" fill="#15151c" stroke="#15151c" stroke-width="0.3">Bloomberg</text>
</g>
</svg></body></html>
